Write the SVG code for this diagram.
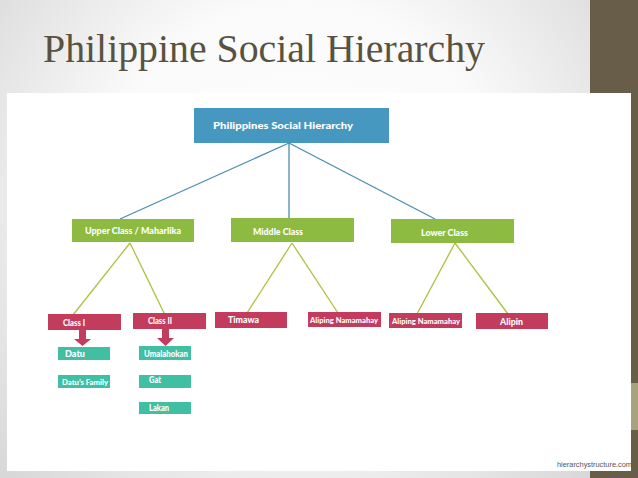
<svg xmlns="http://www.w3.org/2000/svg" width="638" height="478" viewBox="0 0 638 478">
  <defs>
    <radialGradient id="bg" cx="300" cy="200" r="400" gradientUnits="userSpaceOnUse">
      <stop offset="0" stop-color="#ffffff"/>
      <stop offset="0.5" stop-color="#fafafa"/>
      <stop offset="1" stop-color="#d8d8d8"/>
    </radialGradient>
    <style>
      .lbl { font-family: Lato, "Open Sans", "Liberation Sans", sans-serif; font-weight: 900; fill: #ffffff; }
      .blue { fill: #4698c0; }
      .green { fill: #8dbb41; }
      .red { fill: #c33b5d; }
      .teal { fill: #40bfa3; }
      .cb { stroke: #4a8eb2; stroke-width: 1.3; fill: none; }
      .cg { stroke: #a6c43f; stroke-width: 1.3; fill: none; }
    </style>
  </defs>

  <rect x="0" y="0" width="638" height="478" fill="url(#bg)"/>
  <rect x="590" y="0" width="48" height="478" fill="#675d48"/>
  <rect x="630" y="383" width="8" height="47" fill="#a9a27f"/>
  <rect x="7" y="93" width="624" height="378" fill="#ffffff"/>

  <text x="43" y="62" font-family="'Liberation Serif', serif" font-size="41" fill="#595240" textLength="442" lengthAdjust="spacingAndGlyphs">Philippine Social Hierarchy</text>

  <g id="connectors">
    <line class="cb" x1="289" y1="143" x2="120" y2="219"/>
    <line class="cb" x1="289" y1="143" x2="289" y2="218"/>
    <line class="cb" x1="289" y1="143" x2="435" y2="219"/>
    <line class="cg" x1="130" y1="243" x2="73" y2="315"/>
    <line class="cg" x1="130" y1="243" x2="165" y2="315"/>
    <line class="cg" x1="292" y1="243" x2="247" y2="313"/>
    <line class="cg" x1="292" y1="243" x2="338" y2="313"/>
    <line class="cg" x1="455" y1="243" x2="417" y2="314"/>
    <line class="cg" x1="455" y1="243" x2="508" y2="314"/>
    <path class="red" d="M79,330 H86 V339 H91 L82.5,346 L74,339 H79 Z"/>
    <path class="red" d="M162,329 H169 V338 H174 L165.5,346 L157,338 H162 Z"/>
  </g>

  <g id="root">
    <rect class="blue" x="194" y="108" width="195" height="35"/>
    <text class="lbl" x="213" y="129" font-size="10" textLength="140" lengthAdjust="spacingAndGlyphs">Philippines Social Hierarchy</text>
  </g>

  <g id="upper">
    <rect class="green" x="72" y="219" width="122" height="23"/>
    <text class="lbl" x="85" y="233.5" font-size="9.5" textLength="96" lengthAdjust="spacingAndGlyphs">Upper Class / Maharlika</text>
  </g>
  <g id="middle">
    <rect class="green" x="231" y="218" width="123" height="24"/>
    <text class="lbl" x="253" y="234.5" font-size="9.5" textLength="50" lengthAdjust="spacingAndGlyphs">Middle Class</text>
  </g>
  <g id="lower">
    <rect class="green" x="391" y="219" width="123" height="24"/>
    <text class="lbl" x="421" y="235.5" font-size="9.5" textLength="47" lengthAdjust="spacingAndGlyphs">Lower Class</text>
  </g>

  <g id="class1">
    <rect class="red" x="48" y="314" width="73" height="16"/>
    <text class="lbl" x="63" y="325.5" font-size="8.5" textLength="22" lengthAdjust="spacingAndGlyphs">Class I</text>
  </g>
  <g id="class2">
    <rect class="red" x="133" y="313" width="73" height="16"/>
    <text class="lbl" x="148" y="324" font-size="8.5" textLength="24" lengthAdjust="spacingAndGlyphs">Class II</text>
  </g>
  <g id="timawa">
    <rect class="red" x="215" y="312" width="72" height="16"/>
    <text class="lbl" x="228" y="323" font-size="9.5" textLength="31" lengthAdjust="spacingAndGlyphs">Timawa</text>
  </g>
  <g id="aliping1">
    <rect class="red" x="308" y="312" width="73" height="15"/>
    <text class="lbl" x="310" y="322.5" font-size="8" textLength="68" lengthAdjust="spacingAndGlyphs">Aliping Namamahay</text>
  </g>
  <g id="aliping2">
    <rect class="red" x="389" y="313" width="73" height="15"/>
    <text class="lbl" x="392" y="324" font-size="8" textLength="68" lengthAdjust="spacingAndGlyphs">Aliping Namamahay</text>
  </g>
  <g id="alipin">
    <rect class="red" x="476" y="313" width="72" height="16"/>
    <text class="lbl" x="500" y="325" font-size="9" textLength="23" lengthAdjust="spacingAndGlyphs">Alipin</text>
  </g>

  <g id="datu">
    <rect class="teal" x="58" y="347" width="52" height="13"/>
    <text class="lbl" x="65" y="357" font-size="8.5" textLength="20" lengthAdjust="spacingAndGlyphs">Datu</text>
  </g>
  <g id="datufamily">
    <rect class="teal" x="58" y="375" width="52" height="13"/>
    <text class="lbl" x="62" y="385" font-size="8" textLength="46" lengthAdjust="spacingAndGlyphs">Datu’s Family</text>
  </g>
  <g id="umalahokan">
    <rect class="teal" x="139" y="346" width="52" height="14"/>
    <text class="lbl" x="144" y="356.5" font-size="8.5" textLength="44" lengthAdjust="spacingAndGlyphs">Umalahokan</text>
  </g>
  <g id="gat">
    <rect class="teal" x="139" y="375" width="52" height="13"/>
    <text class="lbl" x="149" y="383" font-size="8.5" textLength="12" lengthAdjust="spacingAndGlyphs">Gat</text>
  </g>
  <g id="lakan">
    <rect class="teal" x="139" y="402" width="52" height="12"/>
    <text class="lbl" x="149" y="411" font-size="8.5" textLength="20" lengthAdjust="spacingAndGlyphs">Lakan</text>
  </g>

  <text x="632" y="467" text-anchor="end" font-family="'Liberation Sans', Arial, sans-serif" font-size="7.5" fill="#555555" textLength="75" lengthAdjust="spacingAndGlyphs">hierarchystructure.com</text>
</svg>
